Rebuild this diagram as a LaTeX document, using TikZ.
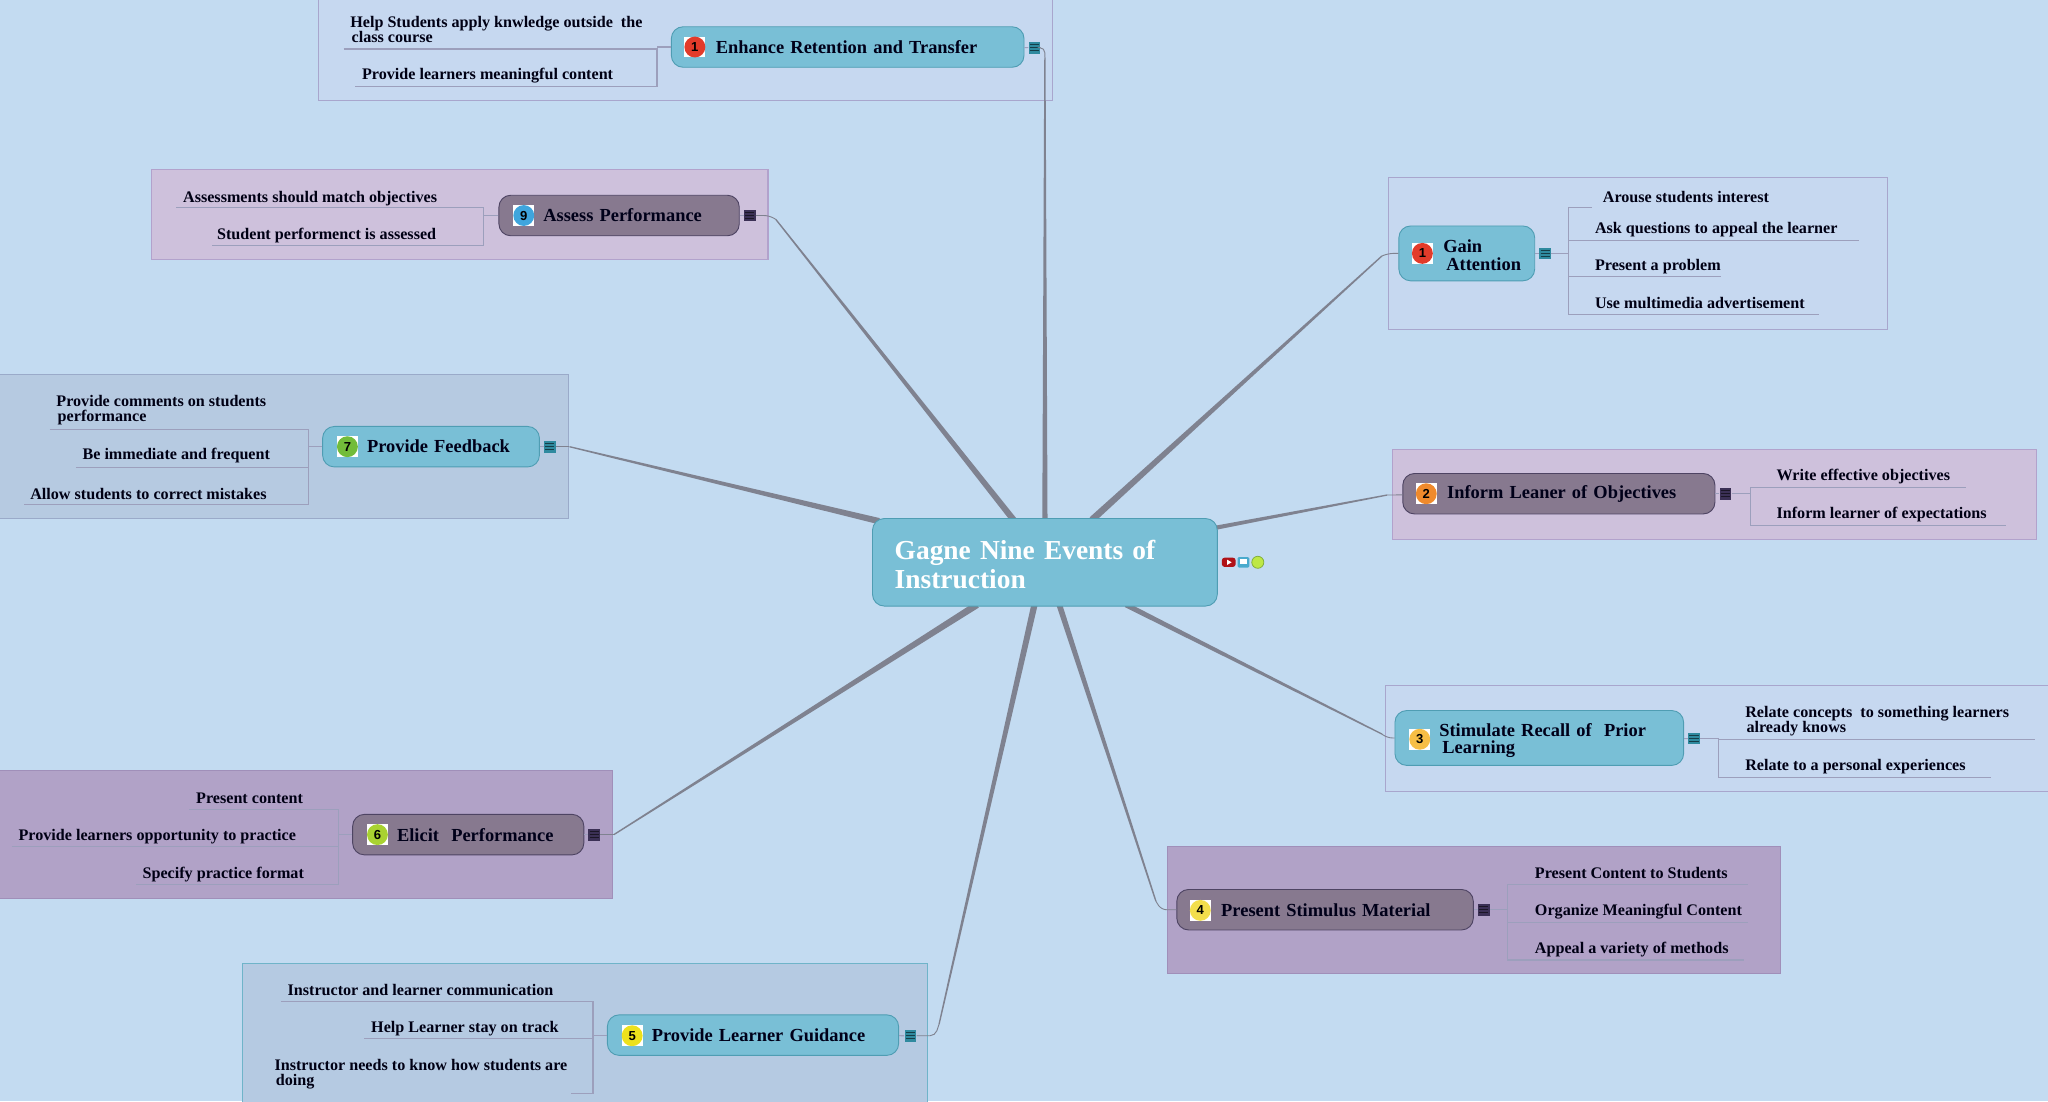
\documentclass[tikz,border=0pt]{standalone}
\usepackage{fontspec}
\setmainfont{Liberation Serif}
\setsansfont{Liberation Sans}
\usetikzlibrary{calc}
\definecolor{bgblue}{HTML}{C3DBF1}
\definecolor{tealfill}{HTML}{79BFD6}
\definecolor{tealline}{HTML}{4F9DB3}
\definecolor{greyfill}{HTML}{87798F}
\definecolor{greyline}{HTML}{4E4463}
\definecolor{spokecol}{HTML}{7F8290}
\definecolor{twigcol}{HTML}{9C9FBC}
\definecolor{darkmark}{HTML}{3B3055}
\definecolor{tealmark}{HTML}{2F8A9F}
\definecolor{ball1}{HTML}{E23B2A}
\definecolor{ball2}{HTML}{F08A2C}
\definecolor{ball3}{HTML}{F7BE45}
\definecolor{ball4}{HTML}{F3DE4C}
\definecolor{ball5}{HTML}{EDE11C}
\definecolor{ball6}{HTML}{A9D231}
\definecolor{ball7}{HTML}{72BC3A}
\definecolor{ball9}{HTML}{3FA5DD}
\definecolor{playred}{HTML}{B01218}
\definecolor{noteblue}{HTML}{49AACD}
\definecolor{dotgreen}{HTML}{BEE846}
\definecolor{dotline}{HTML}{82AF3C}
\tikzset{
  x=1pt, y=-1pt,
  frameblue/.style={fill={rgb,255:red,198;green,216;blue,240}, draw={rgb,255:red,168;green,166;blue,205}, line width=.8pt},
  framepink/.style={fill={rgb,255:red,206;green,193;blue,220}, draw={rgb,255:red,178;green,162;blue,204}, line width=.8pt},
  framesteel/.style={fill={rgb,255:red,182;green,202;blue,225}, draw={rgb,255:red,154;green,170;blue,201}, line width=.8pt},
  framemauve/.style={fill={rgb,255:red,177;green,162;blue,199}, draw={rgb,255:red,160;green,143;blue,185}, line width=.8pt},
  frameaqua/.style={fill={rgb,255:red,181;green,202;blue,226}, draw={rgb,255:red,111;green,180;blue,201}, line width=.8pt},
  rootbox/.style={draw=tealline, fill=tealfill, rounded corners=9pt, line width=.7pt,
    text=white, font=\bfseries\fontsize{21}{21.7}\selectfont, align=left,
    minimum width=264pt, minimum height=67pt, text width=230pt, inner xsep=17pt, inner ysep=0pt},
  branchtxt/.style={text=black!90!blue, font=\bfseries\fontsize{14.1}{13.6}\selectfont, align=left,
    text width=#1pt-68pt, minimum width=#1pt, minimum height=31pt, inner xsep=34pt, inner ysep=0pt},
  tealbox/.style={branchtxt=#1, draw=tealline, fill=tealfill, rounded corners=9pt, line width=.7pt},
  greybox/.style={branchtxt=#1, draw=greyline, fill=greyfill, rounded corners=9pt, line width=.7pt},
  leaf/.style={anchor=west, inner sep=0pt, align=left, text=black!92!blue,
    font=\bfseries\fontsize{12.35}{11}\selectfont},
  twig/.style={draw=twigcol, line width=.8pt},
  stem/.style={draw=spokecol, line width=.7pt, rounded corners=4pt},
  icon/.style={rectangle, fill=white, minimum size=16pt, inner sep=0pt,
    font=\sffamily\bfseries\fontsize{10}{10}\selectfont,
    path picture={\fill[#1] (path picture bounding box.center) circle (8pt);}},
  marker/.style={rectangle, fill=#1, minimum width=9pt, minimum height=9pt, inner sep=0pt,
    path picture={
      \draw[#1!45!black, line width=.9pt]
        ($(path picture bounding box.center)+(-3.5,-2.4)$) -- +(7,0)
        ($(path picture bounding box.center)+(-3.5,0)$) -- +(7,0)
        ($(path picture bounding box.center)+(-3.5,2.4)$) -- +(7,0);}},
}
\newcommand{\spoke}[3]{
  \fill[spokecol] ($(#1)!#3pt!90:(#2)$) -- ($(#2)!.5pt!-90:(#1)$) -- ($(#2)!.5pt!90:(#1)$) -- ($(#1)!#3pt!-90:(#2)$) -- cycle;
}
\begin{document}
\begin{tikzpicture}
  \useasboundingbox (0,0) rectangle (1568,843);
  \fill[bgblue] (0,0) rectangle (1568,843);
  % frames
  \draw[frameblue] (244,-1) rectangle (806,77);
  \draw[framepink] (116,130) rectangle (588,199);
  \draw[framesteel] (-1,287) rectangle (435,397);
  \draw[framemauve] (-1,590) rectangle (469,688);
  \draw[frameaqua] (186,738) rectangle (710,845);
  \draw[frameblue] (1063,136) rectangle (1445,252);
  \draw[framepink] (1066,344) rectangle (1559,413);
  \draw[frameblue] (1061,525) rectangle (1570,606);
  \draw[framemauve] (894,648) rectangle (1363,745);
  % branches
  \node[tealbox=270] (retain) at (649,36) {\mbox{Enhance Retention and Transfer}};
  \node[greybox=184] (assess) at (474,165) {\mbox{Assess Performance}};
  \node[tealbox=166] (feedback) at (330,342) {\mbox{Provide Feedback}};
  \node[greybox=177] (elicit) at (358.5,639) {\mbox{Elicit\ \ Performance}};
  \node[tealbox=223] (guide) at (576.5,792.5) {\mbox{Provide Learner Guidance}};
  \node[tealbox=104, minimum height=42pt] (gain) at (1123,194) {\rule{0pt}{12pt}Gain\\\,\mbox{Attention}};
  \node[greybox=239] (inform) at (1193.5,378) {\rule{0pt}{11pt}\mbox{Inform Leaner of Objectives}};
  \node[tealbox=221, minimum height=42pt] (recall) at (1178.5,565) {\rule{0pt}{14pt}\mbox{Stimulate Recall of\ \ Prior}\\\,Learning};
  \node[greybox=227] (stimulus) at (1014.5,696.5) {\mbox{Present Stimulus Material}};
  % markers
  \node[marker=tealmark] (mretain) at (792,36.5) {};
  \node[marker=darkmark] (massess) at (574,165) {};
  \node[marker=tealmark] (mfeedback) at (421,342) {};
  \node[marker=darkmark] (melicit) at (455,639) {};
  \node[marker=tealmark] (mguide) at (697,793) {};
  \node[marker=tealmark] (mgain) at (1183,194) {};
  \node[marker=darkmark] (minform) at (1321,378) {};
  \node[marker=tealmark] (mrecall) at (1297,565.5) {};
  \node[marker=darkmark] (mstimulus) at (1136,696.5) {};
  % spokes from the root
  \coordinate (sretain) at (800,398);
  \coordinate (kretain) at (800,44);
  \coordinate (sassess) at (776,398);
  \coordinate (kassess) at (594,168);
  \coordinate (sfeedback) at (673,399);
  \coordinate (kfeedback) at (436,342);
  \coordinate (selicit) at (748,463);
  \coordinate (kelicit) at (470,639);
  \coordinate (sguide) at (792,463);
  \coordinate (kguide) at (719,784);
  \coordinate (sgain) at (836,398);
  \coordinate (kgain) at (1058,196);
  \coordinate (sinform) at (931,404);
  \coordinate (kinform) at (1062,379);
  \coordinate (srecall) at (862,463);
  \coordinate (krecall) at (1058,562);
  \coordinate (sstimulus) at (811,463);
  \coordinate (kstimulus) at (885,690);
  \spoke{sretain}{kretain}{2}
  \spoke{sassess}{kassess}{2.4}
  \spoke{sfeedback}{kfeedback}{2.4}
  \spoke{selicit}{kelicit}{2.6}
  \spoke{sguide}{kguide}{2.4}
  \spoke{sgain}{kgain}{2.6}
  \spoke{sinform}{kinform}{1.6}
  \spoke{srecall}{krecall}{2}
  \spoke{sstimulus}{kstimulus}{2.2}
  % stems into the markers
  \draw[stem] (kretain) -- (800,36.5) -- (mretain);
  \draw[stem] (kassess) -- (589,165) -- (massess);
  \draw[stem] (kfeedback) -- (mfeedback);
  \draw[stem] (kelicit) -- (melicit);
  \draw[stem] (kguide) -- (716,793) -- (mguide);
  \draw[stem] (kgain) -- (1063,194) -- (gain);
  \draw[stem] (kinform) -- (inform);
  \draw[stem] (krecall) -- (1062,565) -- (recall);
  \draw[stem] (kstimulus) -- (889,696.5) -- (stimulus);
  % root
  \node[rootbox] (root) at (800,430.5) {\rule{0pt}{18pt}Gagne Nine Events of\\Instruction};
  \fill[playred, rounded corners=2pt] (935.5,427) rectangle (946,434);
  \fill[white] (939.5,428.5) -- (943,430.5) -- (939.5,432.5) -- cycle;
  \fill[noteblue, rounded corners=1pt] (947.5,426.5) rectangle (956.5,434.5);
  \fill[white] (949.5,428) rectangle (954.5,431.5);
  \draw[dotline, fill=dotgreen, line width=.6pt] (963,430.5) circle (4.6);
  % icons
  \node[icon=ball1] (iretain) at (532,36) {1};
  \node[icon=ball9] (iassess) at (401,165) {9};
  \node[icon=ball7] (ifeedback) at (266,342) {7};
  \node[icon=ball6] (ielicit) at (289,639) {6};
  \node[icon=ball5] (iguide) at (484,793) {5};
  \node[icon=ball1] (igain) at (1089,194) {1};
  \node[icon=ball2] (iinform) at (1092,378) {2};
  \node[icon=ball3] (irecall) at (1087,566) {3};
  \node[icon=ball4] (istimulus) at (919,697) {4};
  % leaves of retain
  \node[leaf] (re1) at (268,22.5) {Help Students apply knwledge outside\ \ the\\[-.8pt]\kern1pt class course};
  \node[leaf] (re2) at (277,57.5) {Provide learners meaningful content};
  \coordinate (re1a) at (263,37.5);
  \coordinate (re2a) at (272,66);
  \draw[twig] (re1a) -- (503,37.5) -- (503,66) -- (re2a);
  \draw[twig] (retain) -- (503,36);
  \draw[twig] (retain) -- (mretain);
  % leaves of assess
  \node[leaf] (as1) at (140,152) {Assessments should match objectives};
  \node[leaf] (as2) at (166,180.5) {Student performenct is assessed};
  \coordinate (as1a) at (135,159);
  \coordinate (as2a) at (162,188);
  \draw[twig] (as1a) -- (370,159) -- (370,188) -- (as2a);
  \draw[twig] (assess) -- (370,165);
  \draw[twig] (assess) -- (massess);
  % leaves of feedback
  \node[leaf] (fe1) at (43,314) {Provide comments on students\\[.6pt]\kern1pt performance};
  \node[leaf] (fe2) at (63,349) {Be immediate and frequent};
  \node[leaf] (fe3) at (23,378) {Allow students to correct mistakes};
  \coordinate (fe1a) at (38,329);
  \coordinate (fe2a) at (58,358);
  \coordinate (fe3a) at (18,386);
  \draw[twig] (fe1a) -- (236,329) -- (236,386) -- (fe3a);
  \draw[twig] (fe2a) -- (236,358);
  \draw[twig] (feedback) -- (236,342);
  \draw[twig] (feedback) -- (mfeedback);
  % leaves of elicit
  \node[leaf] (el1) at (150,611) {Present content};
  \node[leaf] (el2) at (14,640.5) {Provide learners opportunity to practice};
  \node[leaf] (el3) at (109,669.5) {Specify practice format};
  \coordinate (el1a) at (145,620);
  \coordinate (el2a) at (9,648);
  \coordinate (el3a) at (104,677);
  \draw[twig] (el1a) -- (259,620) -- (259,677) -- (el3a);
  \draw[twig] (el2a) -- (259,648);
  \draw[twig] (elicit) -- (259,639);
  \draw[twig] (elicit) -- (melicit);
  % leaves of guide
  \node[leaf] (gu1) at (220,758) {Instructor and learner communication};
  \node[leaf] (gu2) at (284,787.5) {Help Learner stay on track};
  \node[leaf] (gu3) at (210,822.5) {Instructor needs to know how students are\\[.6pt]\kern1pt doing};
  \coordinate (gu1a) at (215,767);
  \coordinate (gu2a) at (279,795);
  \coordinate (gu3a) at (437,837);
  \draw[twig] (gu1a) -- (454,767) -- (454,837) -- (gu3a);
  \draw[twig] (gu2a) -- (454,795);
  \draw[twig] (guide) -- (454,792.5);
  \draw[twig] (guide) -- (mguide);
  % leaves of gain
  \node[leaf] (ga1) at (1227,151) {Arouse students interest};
  \node[leaf] (ga2) at (1221,175.5) {Ask questions to appeal the learner};
  \node[leaf] (ga3) at (1221,204) {Present a problem};
  \node[leaf] (ga4) at (1221,232) {Use multimedia advertisement};
  \coordinate (ga1a) at (1219,159);
  \coordinate (ga2a) at (1423,184);
  \coordinate (ga3a) at (1318,212);
  \coordinate (ga4a) at (1393,241);
  \draw[twig] (ga1a) -- (1201,159) -- (1201,241) -- (ga4a);
  \draw[twig] (1201,184) -- (ga2a);
  \draw[twig] (1201,212) -- (ga3a);
  \draw[twig] (mgain) -- (1201,194);
  \draw[twig] (gain) -- (mgain);
  % leaves of inform
  \node[leaf] (in1) at (1360,365) {Write effective objectives};
  \node[leaf] (in2) at (1360,394) {Inform learner of expectations};
  \coordinate (in1a) at (1505,373);
  \coordinate (in2a) at (1536,402);
  \draw[twig] (in1a) -- (1340,373) -- (1340,402) -- (in2a);
  \draw[twig] (minform) -- (1340,378);
  \draw[twig] (inform) -- (minform);
  % leaves of recall
  \node[leaf] (rc1) at (1336,552) {Relate concepts\ \ to something learners\\[-.4pt]\kern1pt already knows};
  \node[leaf] (rc2) at (1336,587) {Relate to a personal experiences};
  \coordinate (rc1a) at (1558,566);
  \coordinate (rc2a) at (1524,595);
  \draw[twig] (rc1a) -- (1316,566) -- (1316,595) -- (rc2a);
  \draw[twig] (mrecall) -- (1316,565.5);
  \draw[twig] (recall) -- (mrecall);
  % leaves of stimulus
  \node[leaf] (st1) at (1175,668.5) {Present Content to Students};
  \node[leaf] (st2) at (1175,698) {Organize Meaningful Content};
  \node[leaf] (st3) at (1175,727) {Appeal a variety of methods};
  \coordinate (st1a) at (1338,677);
  \coordinate (st2a) at (1338,706);
  \coordinate (st3a) at (1335,735);
  \draw[twig] (st1a) -- (1154,677) -- (1154,735) -- (st3a);
  \draw[twig] (1154,706) -- (st2a);
  \draw[twig] (mstimulus) -- (1154,696.5);
  \draw[twig] (stimulus) -- (mstimulus);
\end{tikzpicture}
\end{document}
